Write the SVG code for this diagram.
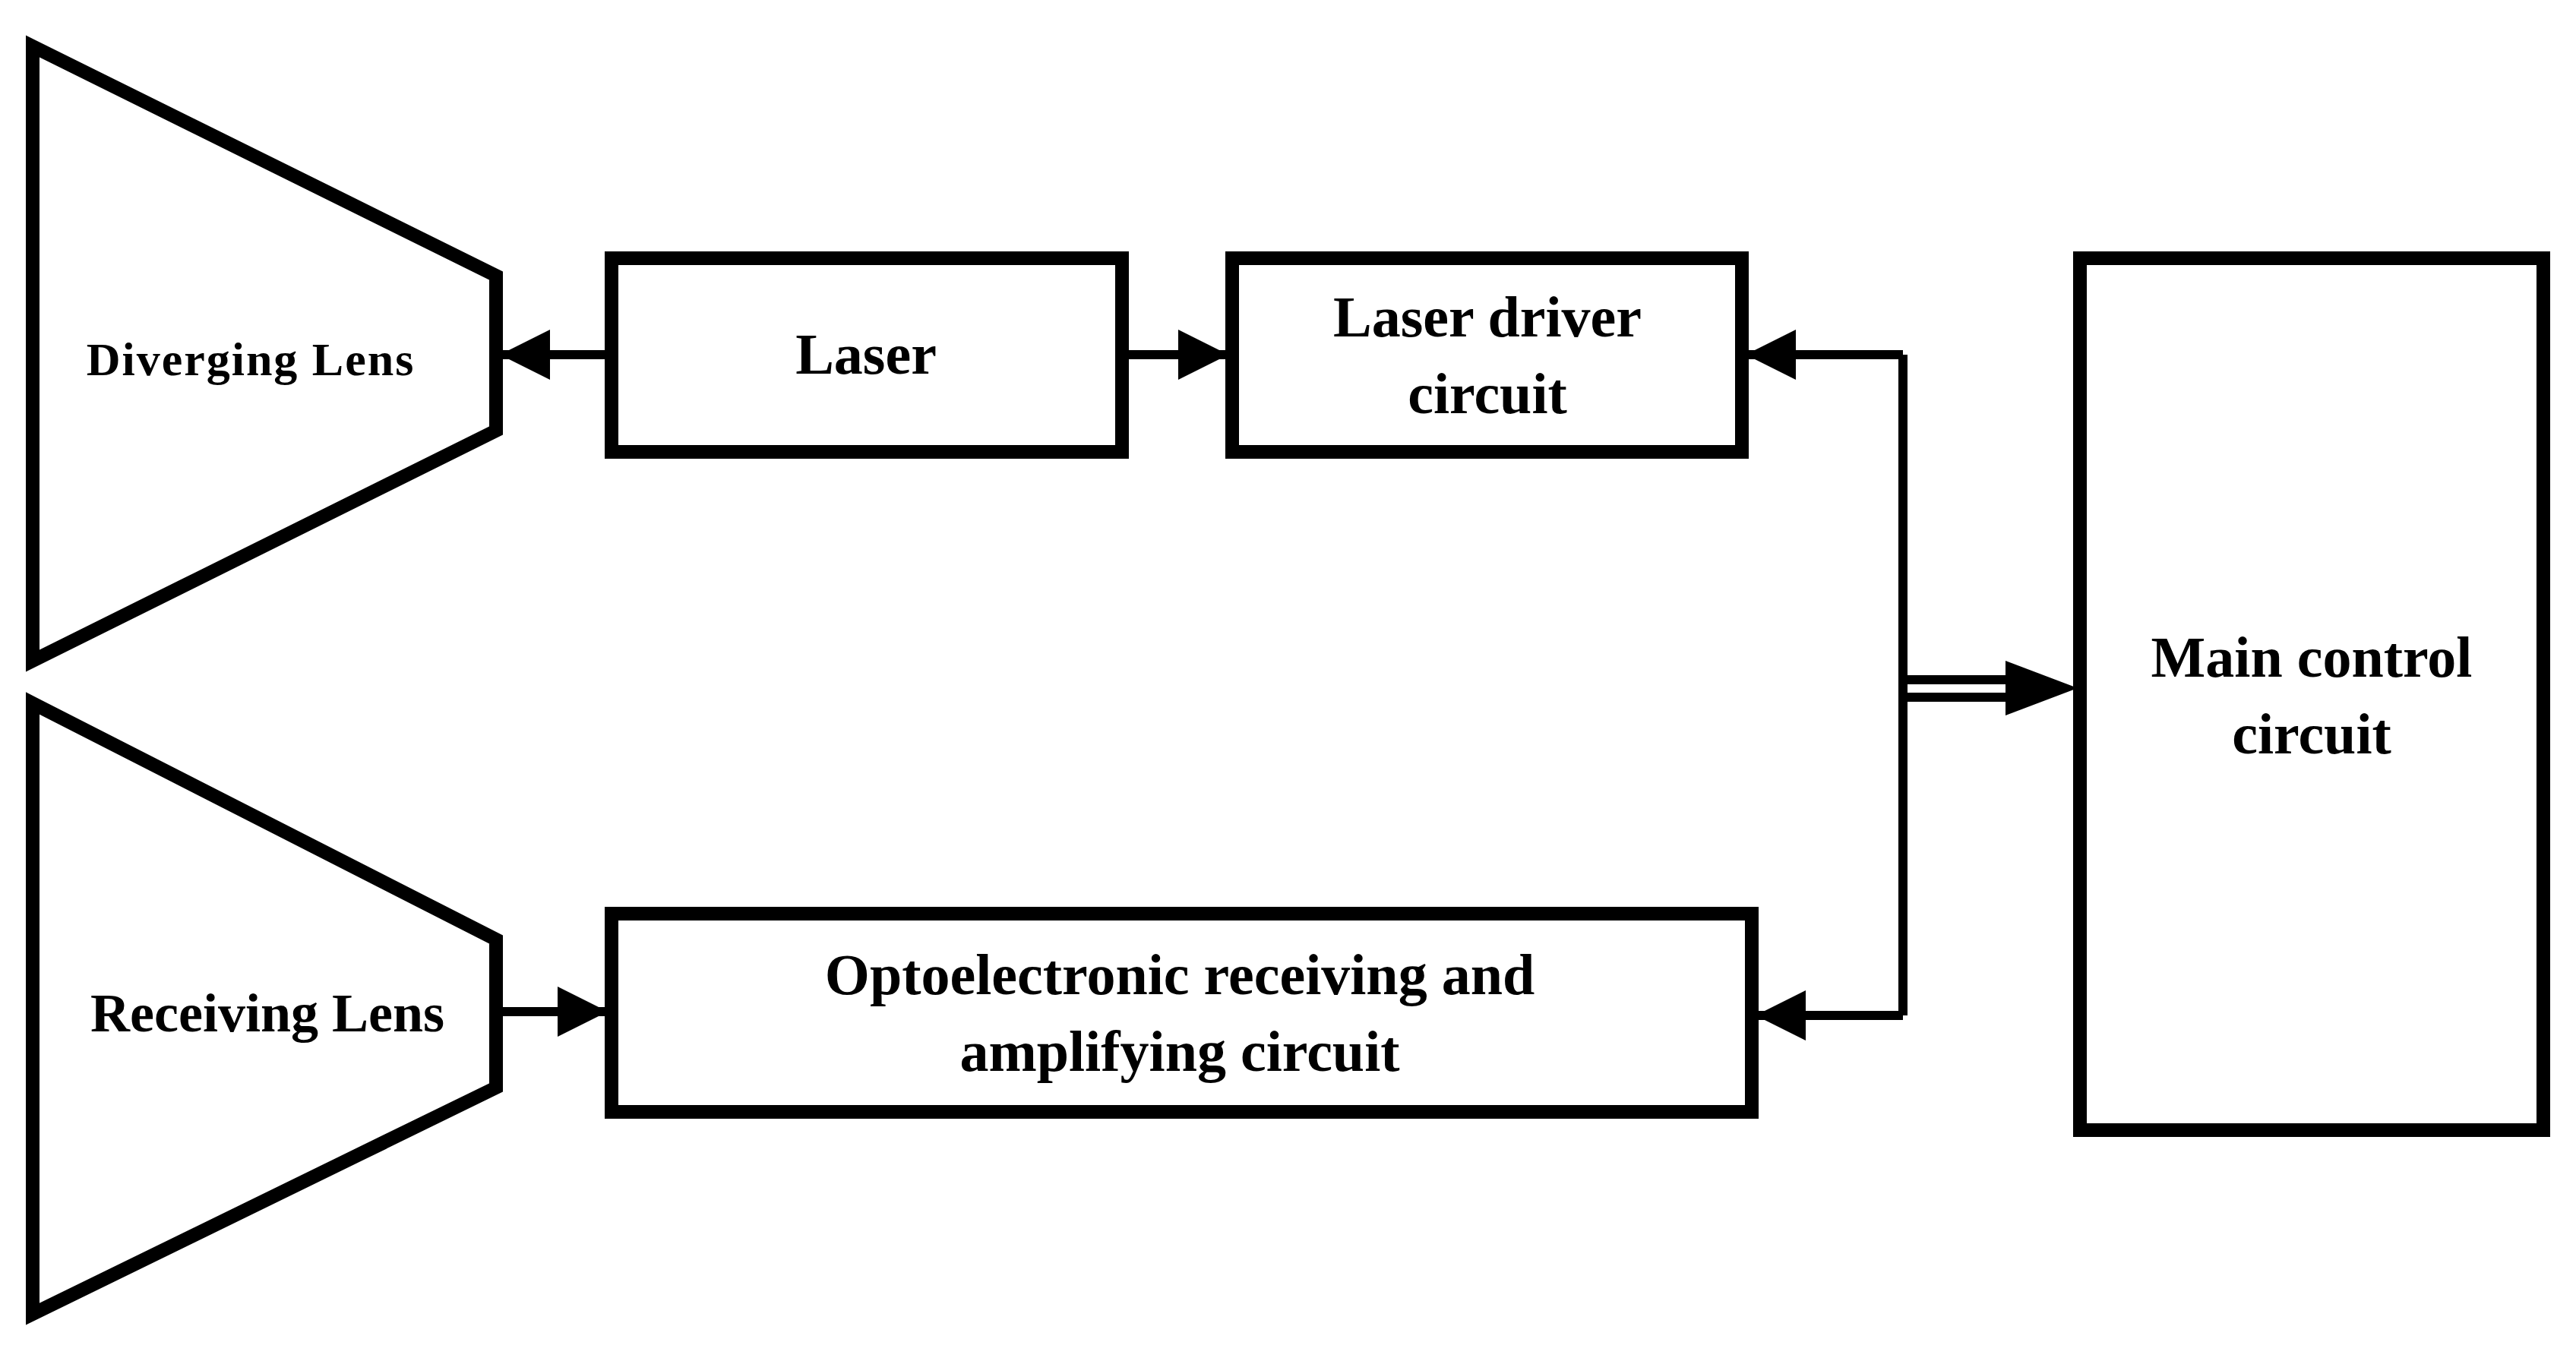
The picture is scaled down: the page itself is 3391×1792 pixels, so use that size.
<svg xmlns="http://www.w3.org/2000/svg" width="3391" height="1792" viewBox="0 0 3391 1792">
<style>
.b{fill:#fff;stroke:#000;stroke-width:18}
.t{font-family:"Liberation Serif",serif;font-weight:bold;font-size:76px;text-anchor:middle;fill:#000}
.s{font-size:62px}
.c{stroke:#000;stroke-width:12;fill:none}
</style>
<defs>
<marker id="a" viewBox="0 0 10 10" refX="10" refY="5" markerWidth="6.5" markerHeight="5.5" markerUnits="strokeWidth" orient="auto"><path d="M0,0L10,5L0,10z"/></marker>
</defs>
<rect width="3391" height="1792" fill="#fff"/>
<g id="connectors">
<path class="c" d="M805,467H658" marker-end="url(#a)"/>
<path class="c" d="M1477,467H1617" marker-end="url(#a)"/>
<path class="c" d="M2505,467H2298" marker-end="url(#a)"/>
<path class="c" d="M2505,467V1337"/>
<path class="c" d="M2505,1337H2311" marker-end="url(#a)"/>
<path class="c" d="M658,1332H800" marker-end="url(#a)"/>
<path class="c" d="M2505,895H2660M2505,918H2660"/>
<path d="M2640,870L2735,906L2640,942z"/>
</g>
<g id="diverging"><polygon class="b" points="43,61 653,363 653,567 43,870"/><text class="t s" x="330" y="494" letter-spacing="2">Diverging Lens</text></g>
<g id="receiving"><polygon class="b" points="43,926 653,1237 653,1432 43,1730"/><text class="t" x="352" y="1358" style="font-size:72px">Receiving Lens</text></g>
<g id="laser"><rect class="b" x="805" y="340" width="672" height="255"/><text class="t" x="1140" y="492">Laser</text></g>
<g id="driver"><rect class="b" x="1622" y="340" width="671" height="255"/><text class="t" x="1958" y="443">Laser driver</text><text class="t" x="1958" y="544">circuit</text></g>
<g id="opto"><rect class="b" x="805" y="1203" width="1501" height="261"/><text class="t" x="1553" y="1309">Optoelectronic receiving and</text><text class="t" x="1553" y="1410">amplifying circuit</text></g>
<g id="main"><rect class="b" x="2738" y="340" width="610" height="1148"/><text class="t" x="3043" y="891">Main control</text><text class="t" x="3043" y="992">circuit</text></g>
</svg>
